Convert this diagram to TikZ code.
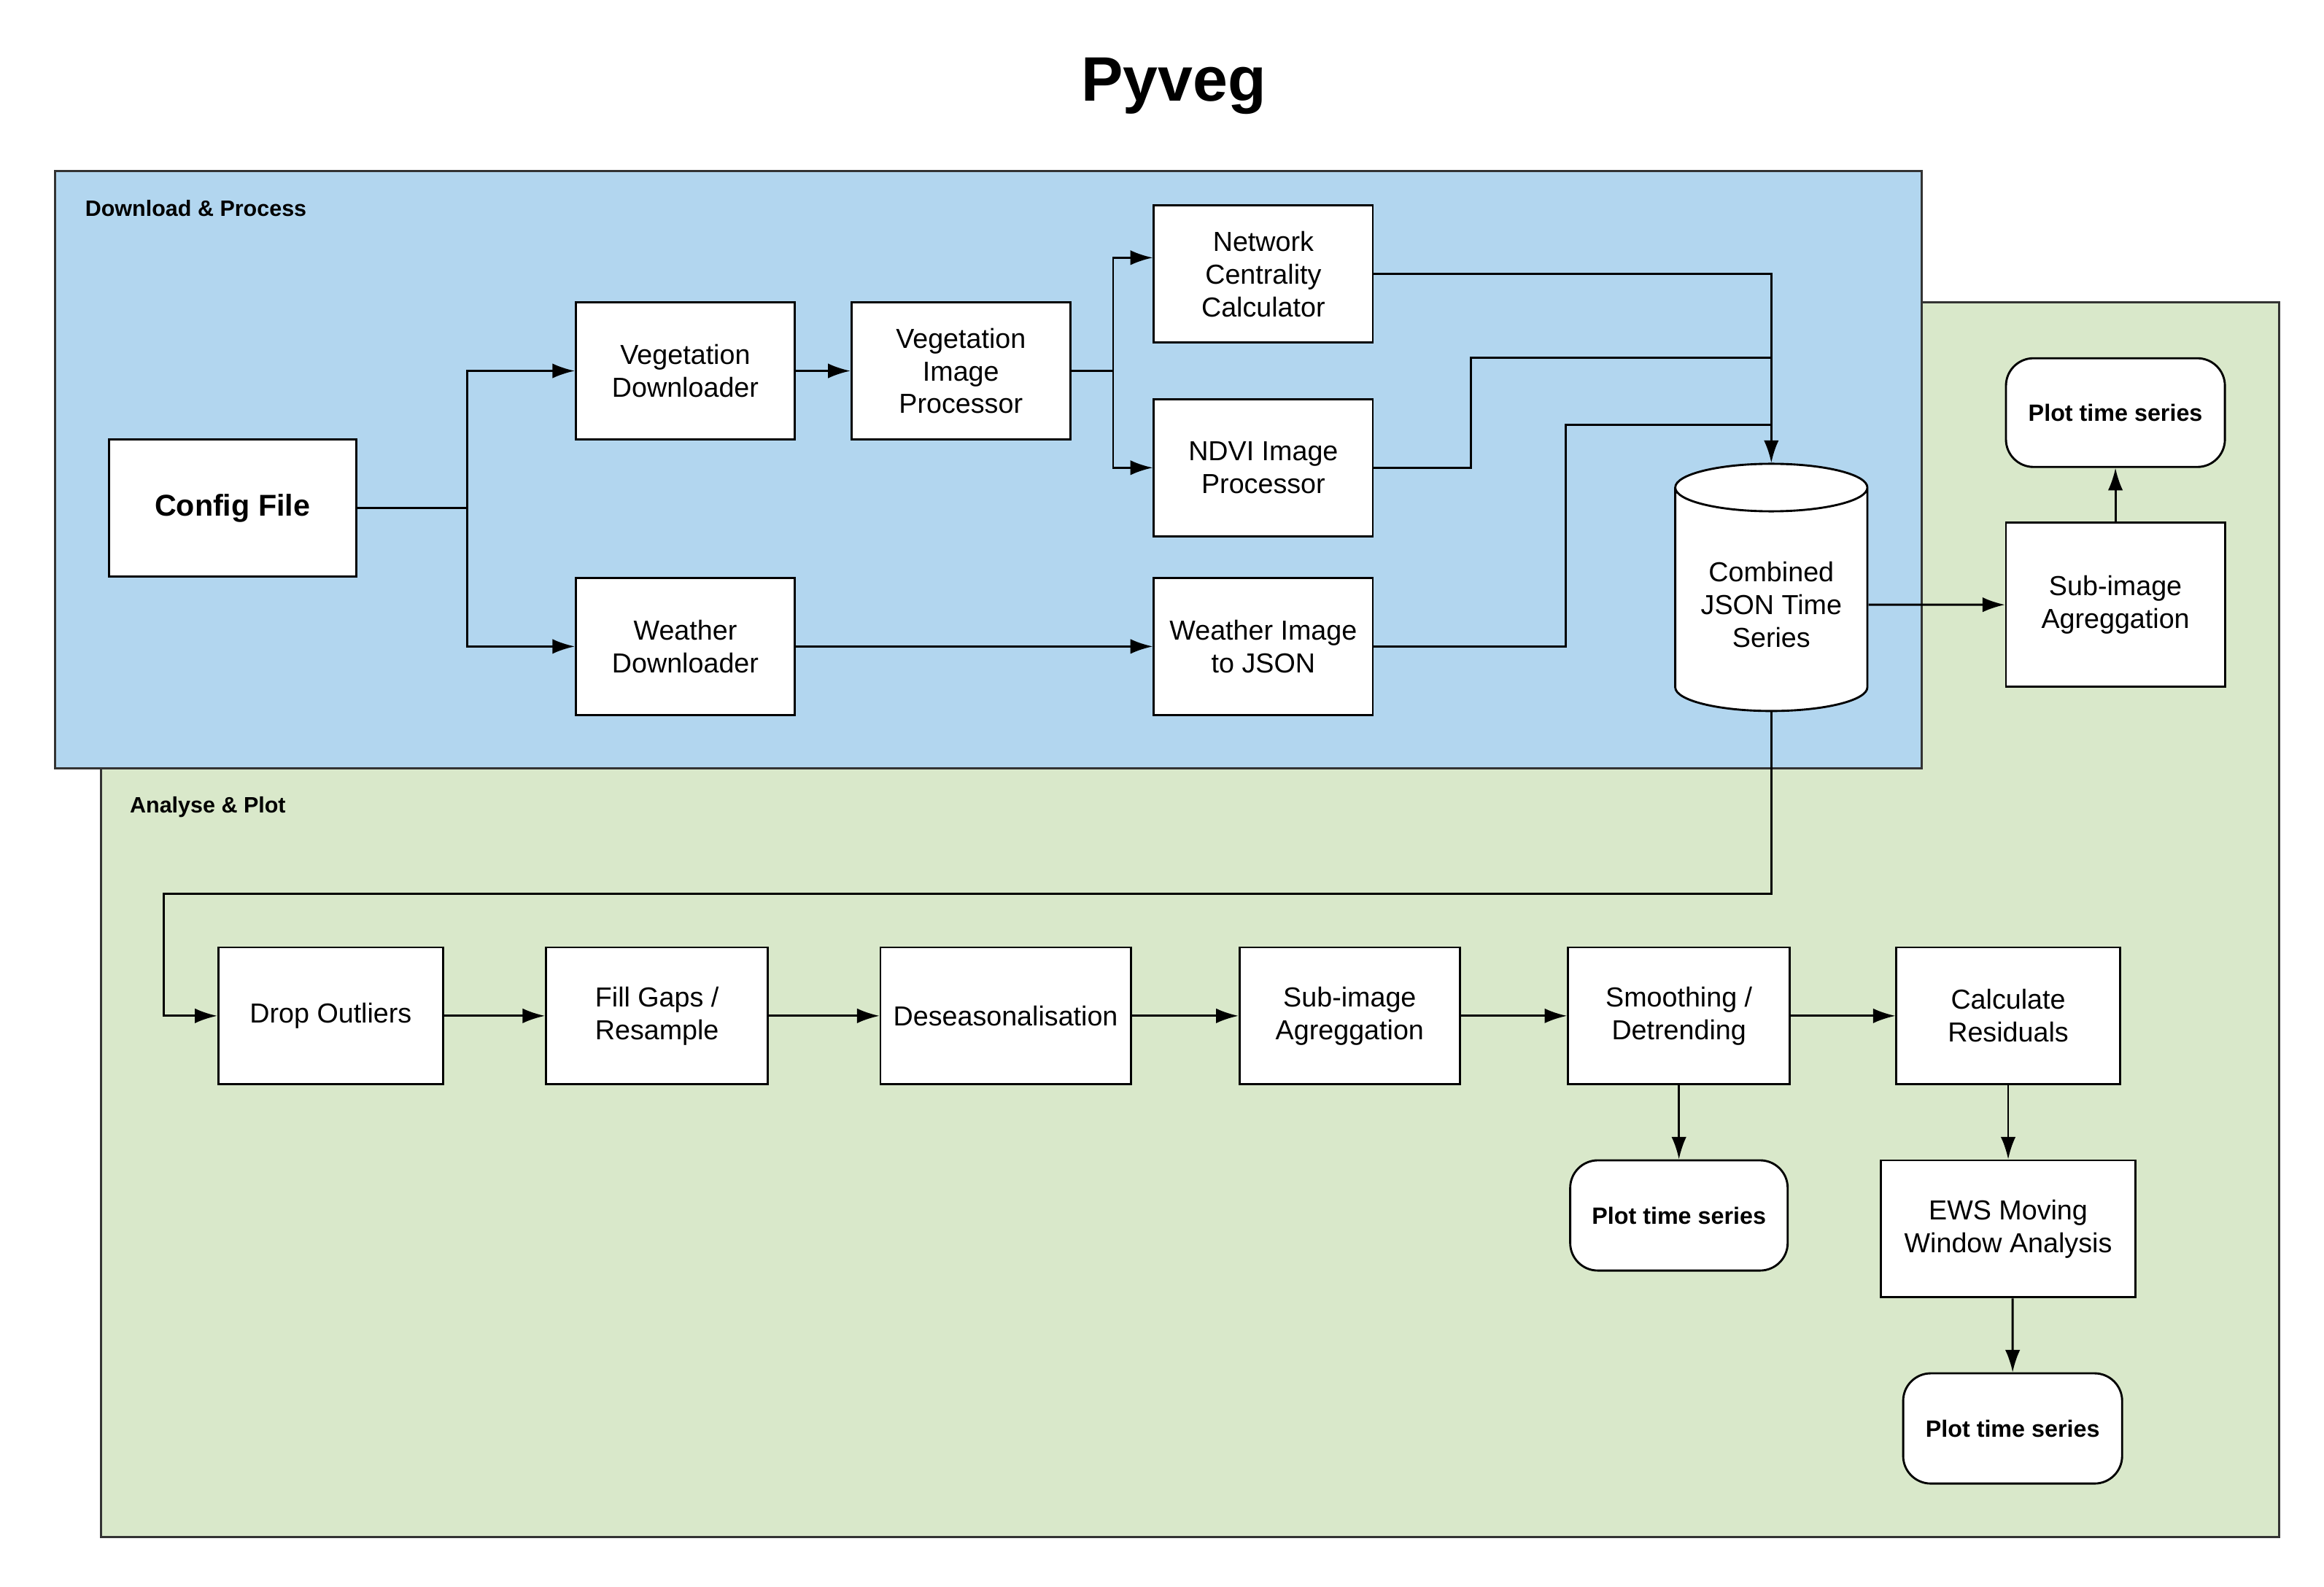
\documentclass[tikz,border=0pt]{standalone}
\usepackage{fontspec}
\setmainfont{Liberation Sans}
\usetikzlibrary{positioning,shapes.geometric,arrows.meta}
\definecolor{dlblue}{HTML}{B2D6EF}
\definecolor{apgreen}{HTML}{D9E8CA}
\definecolor{edgegray}{HTML}{333333}
\tikzset{
  box/.style={draw,thick,fill=white,align=center,inner sep=2pt,
    font=\fontsize{10.5}{12.5}\selectfont},
  term/.style={box,rounded corners=0.37cm,font=\fontsize{9}{11}\selectfont\bfseries},
  flow/.style={thick,-{Latex[length=3mm,width=2mm]}},
  link/.style={thick},
  panel/.style={draw=edgegray,thick},
}
\begin{document}
\begin{tikzpicture}[x=0.02cm,y=-0.02cm]
\useasboundingbox (0,0) rectangle (1560,1065);
\node[font=\fontsize{24}{28}\selectfont\bfseries] (title) at (788,58) {Pyveg};

% panels
\draw[panel,fill=apgreen] (68,203) rectangle (1530,1032);
\draw[panel,fill=dlblue] (37,115) rectangle (1290,516);
\node[anchor=west,font=\fontsize{8.5}{10}\selectfont\bfseries] (dlp) at (51,140) {Download \& Process};
\node[anchor=west,font=\fontsize{8.5}{10}\selectfont\bfseries] (anp) at (81,542) {Analyse \& Plot};

% download & process
\node[box,minimum width=3.32cm,minimum height=1.84cm,font=\fontsize{11.5}{13}\selectfont\bfseries] (config) at (156,341) {Config File};
\node[box,minimum width=2.94cm,minimum height=1.84cm] (vegdl) at (460,249) {Vegetation\\Downloader};
\node[box,minimum width=2.94cm,minimum height=1.84cm] (weadl) at (460,434) {Weather\\Downloader};
\node[box,minimum width=2.94cm,minimum height=1.84cm] (vegproc) at (645,249) {Vegetation\\Image\\Processor};
\node[box,minimum width=2.94cm,minimum height=1.84cm] (netcalc) at (848,184) {Network\\Centrality\\Calculator};
\node[box,minimum width=2.94cm,minimum height=1.84cm] (ndvi) at (848,314) {NDVI Image\\Processor};
\node[box,minimum width=2.94cm,minimum height=1.84cm] (weajson) at (848,434) {Weather Image\\to JSON};
\node[cylinder,shape border rotate=90,draw,thick,fill=white,aspect=0.3,
  minimum width=2.58cm,minimum height=3.32cm,align=center,
  font=\fontsize{10.5}{12.5}\selectfont] (combined) at (1189,406) {Combined\\JSON Time\\Series};
\node[box,minimum width=2.94cm,minimum height=2.2cm] (subtop) at (1420,406) {Sub-image\\Agreggation};
\node[term,minimum width=2.94cm,minimum height=1.46cm] (plottop) at (1420,277) {Plot time series};

% analyse & plot
\node[box,minimum width=3.02cm,minimum height=1.84cm] (drop) at (222,682) {Drop Outliers};
\node[box,minimum width=2.98cm,minimum height=1.84cm] (fillgaps) at (441,682) {Fill Gaps /\\Resample};
\node[box,minimum width=3.36cm,minimum height=1.84cm] (deseas) at (675,682) {Deseasonalisation};
\node[box,minimum width=2.96cm,minimum height=1.84cm] (subbot) at (906,682) {Sub-image\\Agreggation};
\node[box,minimum width=2.98cm,minimum height=1.84cm] (smooth) at (1127,682) {Smoothing /\\Detrending};
\node[box,minimum width=3.0cm,minimum height=1.84cm] (resid) at (1348,682) {Calculate\\Residuals};
\node[term,minimum width=2.92cm,minimum height=1.48cm] (plotsm) at (1127,816) {Plot time series};
\node[box,minimum width=3.42cm,minimum height=1.84cm] (ews) at (1348,825) {EWS Moving\\Window Analysis};
\node[term,minimum width=2.94cm,minimum height=1.48cm] (plotews) at (1351,959) {Plot time series};

% connectors
\draw[flow] (config.east) -- ++(74,0) |- (vegdl.west);
\draw[flow] (config.east) -- ++(74,0) |- (weadl.west);
\draw[flow] (vegdl) -- (vegproc);
\draw[flow] (vegproc.east) -- ++(28,0) |- ([yshift=0.22cm]netcalc.west);
\draw[flow] (vegproc.east) -- ++(28,0) |- (ndvi.west);
\draw[flow] (weadl) -- (weajson);
\draw[flow] (netcalc.east) -| (combined.north);
\draw[link] (ndvi.east) -- ++(65,0) |- (1189,240);
\draw[link] (weajson.east) -- ++(129,0) |- (1189,285);
\draw[flow] (combined.east) -- (subtop.west);
\draw[flow] (subtop) -- (plottop);
\draw[flow] (combined.south) -- (1189,600) -| (110,682) -- (drop.west);
\draw[flow] (drop) -- (fillgaps);
\draw[flow] (fillgaps) -- (deseas);
\draw[flow] (deseas) -- (subbot);
\draw[flow] (subbot) -- (smooth);
\draw[flow] (smooth) -- (resid);
\draw[flow] (smooth) -- (plotsm);
\draw[flow] (resid) -- (ews);
\draw[flow] ([xshift=0.06cm]ews.south) -- (plotews);
\end{tikzpicture}
\end{document}
